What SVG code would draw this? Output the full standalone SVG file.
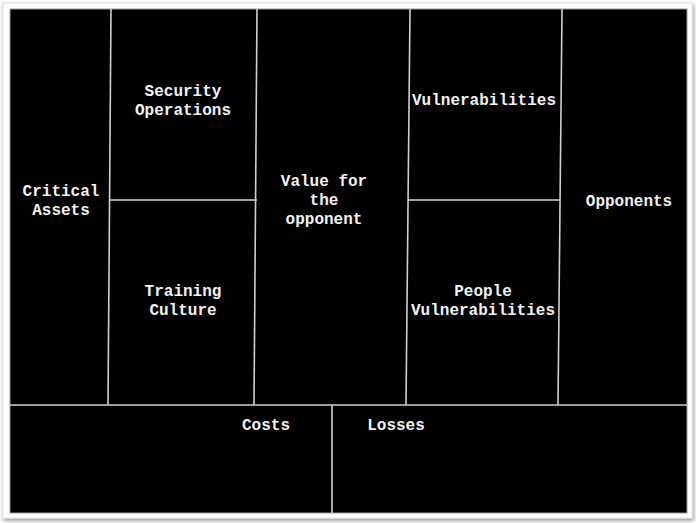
<svg xmlns="http://www.w3.org/2000/svg" width="696" height="523" viewBox="0 0 696 523">
<defs>
<filter id="sh" x="-5%" y="-5%" width="110%" height="110%">
<feGaussianBlur in="SourceAlpha" stdDeviation="2"/>
<feOffset dx="1" dy="2"/>
<feComponentTransfer><feFuncA type="linear" slope="0.45"/></feComponentTransfer>
<feMerge><feMergeNode/><feMergeNode in="SourceGraphic"/></feMerge>
</filter>
</defs>
<style>
.t{font-family:"Liberation Mono","Courier New",monospace;font-weight:bold;font-size:16px;fill:#f2f2f2;text-anchor:middle}
.l{stroke:#cfcfcf;stroke-width:1.6;fill:none}
</style>
<rect x="0" y="0" width="696" height="523" fill="#ffffff"/>
<rect x="3" y="3" width="689" height="515" fill="#ffffff" stroke="#e2e2e2" stroke-width="1" filter="url(#sh)"/>
<rect x="10" y="9" width="677" height="504" fill="#000000" stroke="#9a9a9a" stroke-width="1"/>
<g id="connectors">
<line class="l" x1="111" y1="9" x2="108" y2="405"/>
<line class="l" x1="257" y1="9" x2="254" y2="405"/>
<line class="l" x1="410" y1="9" x2="406" y2="405"/>
<line class="l" x1="562" y1="9" x2="558" y2="405"/>
<line class="l" x1="110" y1="200" x2="257" y2="200"/>
<line class="l" x1="408" y1="200" x2="560" y2="200"/>
<line class="l" x1="10" y1="405" x2="687" y2="405"/>
<line class="l" x1="332" y1="405" x2="332" y2="513"/>
</g>
<g id="critical-assets"><text class="t" x="61" y="196">Critical</text><text class="t" x="61" y="215">Assets</text></g>
<g id="security-operations"><text class="t" x="183" y="96">Security</text><text class="t" x="183" y="115">Operations</text></g>
<g id="training-culture"><text class="t" x="183" y="296">Training</text><text class="t" x="183" y="315">Culture</text></g>
<g id="value-for-the-opponent"><text class="t" x="324" y="186">Value for</text><text class="t" x="324" y="205">the</text><text class="t" x="324" y="224">opponent</text></g>
<g id="vulnerabilities"><text class="t" x="484" y="105">Vulnerabilities</text></g>
<g id="people-vulnerabilities"><text class="t" x="483" y="296">People</text><text class="t" x="483" y="315">Vulnerabilities</text></g>
<g id="opponents"><text class="t" x="629" y="206">Opponents</text></g>
<g id="costs"><text class="t" x="266" y="430">Costs</text></g>
<g id="losses"><text class="t" x="396" y="430">Losses</text></g>
</svg>
